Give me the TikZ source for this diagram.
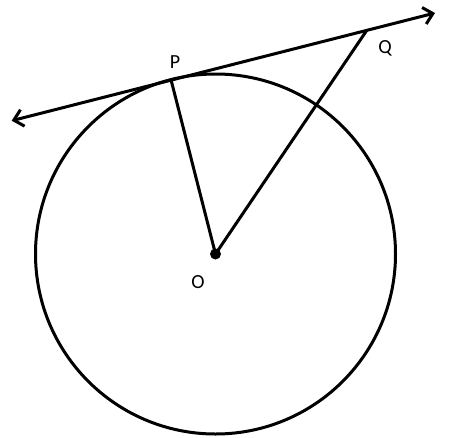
\documentclass[tikz,border=0pt]{standalone}
\usepackage{fontspec}
\setmainfont{Carlito}
\usetikzlibrary{arrows.meta}
\tikzset{barb/.tip={Straight Barb[length=9pt,width=17pt,line width=3pt]}}
\begin{document}
\begin{tikzpicture}[x=1pt,y=-1pt,
  geo/.style={line width=3pt,line cap=round},
  lbl/.style={font=\fontsize{20}{22}\selectfont,inner sep=0pt}]
\useasboundingbox (0,0) rectangle (450,437);
\coordinate (O) at (215.5,254);
\coordinate (P) at (171.1,80.1);
\coordinate (Q) at (367,30);
\coordinate (L) at (11.7,120.7);
\coordinate (R) at (435,13);
\draw[geo] (O) circle[radius=180];
\draw[geo,barb-barb] (L) -- (R);
\draw[geo] (P) -- (O) -- (Q);
\fill (O) circle[radius=5.5];
\node[lbl] (lp) at (175,62) {P};
\node[lbl] (lq) at (385,48) {Q};
\node[lbl] (lo) at (198,282) {O};
\end{tikzpicture}
\end{document}
